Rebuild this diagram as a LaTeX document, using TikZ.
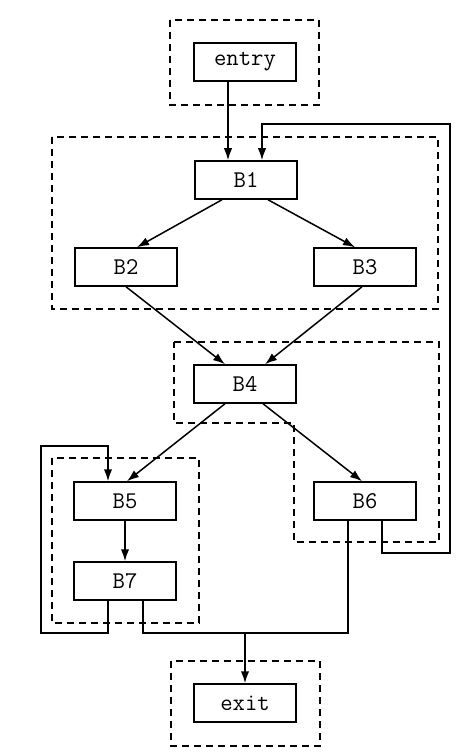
\documentclass[tikz,border=0pt]{standalone}
\usetikzlibrary{arrows.meta}

\tikzset{
    block/.style={draw, rectangle, line width=0.75pt, minimum width=51pt, minimum height=19pt, inner sep=0pt, font=\ttfamily\large},
    region/.style={draw, line width=0.75pt, dash pattern=on 3.5pt off 2.5pt},
    flow/.style={line width=0.75pt, -{Latex[length=6pt,width=4.2pt]}}
}

\begin{document}
\begin{tikzpicture}[x=0.5pt, y=-0.5pt]
    \useasboundingbox (0,0) rectangle (474,753);

    \begin{scope}[every node/.style={block}]
        \node (entry) at (245,62) {entry};
        \node (B1) at (246,180) {B1};
        \node (B2) at (126,267) {B2};
        \node (B3) at (365,267) {B3};
        \node (B4) at (245,384) {B4};
        \node (B5) at (125,501) {B5};
        \node (B6) at (365,501) {B6};
        \node (B7) at (125,581) {B7};
        \node (exit) at (245,703) {exit};
    \end{scope}

    \begin{scope}[every path/.style={region}]
        \path (170,20) rectangle (319,105);
        \path (52,137) rectangle (438,309);
        \path (174,342) -- (439,342) -- (439,542) -- (294,542) -- (294,423) -- (174,423) -- cycle;
        \path (52,458) rectangle (199,623);
        \path (171,661) rectangle (320,746);
    \end{scope}

    \coordinate (e1) at ([xshift=-8.5pt]entry.south);
    \coordinate (b7l) at ([xshift=-8.5pt]B7.south);
    \coordinate (b7r) at ([xshift=9pt]B7.south);
    \coordinate (b6l) at ([xshift=-8.5pt]B6.south);
    \coordinate (b6r) at ([xshift=8.5pt]B6.south);
    \coordinate (b1in) at ([xshift=8pt]B1.north);
    \coordinate (join) at (245,633);

    \draw[flow] (e1) -- (e1 |- B1.north);
    \draw[flow] ([xshift=-12pt]B1.south) -- ([xshift=5.5pt]B2.north);
    \draw[flow] ([xshift=11pt]B1.south) -- ([xshift=-5pt]B3.north);
    \draw[flow] (B2.south) -- ([xshift=-10pt]B4.north);
    \draw[flow] ([xshift=-1.5pt]B3.south) -- ([xshift=10pt]B4.north);
    \draw[flow] ([xshift=-10pt]B4.south) -- ([xshift=1pt]B5.north);
    \draw[flow] ([xshift=9pt]B4.south) -- ([xshift=-1.5pt]B6.north);
    \draw[flow] (B5) -- (B7);
    \draw[flow] (b7l) -- (b7l |- join) -- (41,633) -- (41,446) -- (b7l |- 0,446) -- (b7l |- B5.north);
    \draw[line width=0.75pt] (b7r) -- (b7r |- join) -- (b6l |- join) -- (b6l);
    \draw[flow] (join) -- (exit);
    \draw[flow] (b6r) -- (b6r |- 0,553) -- (450,553) -- (450,124) -- (b1in |- 0,124) -- (b1in);
\end{tikzpicture}
\end{document}
